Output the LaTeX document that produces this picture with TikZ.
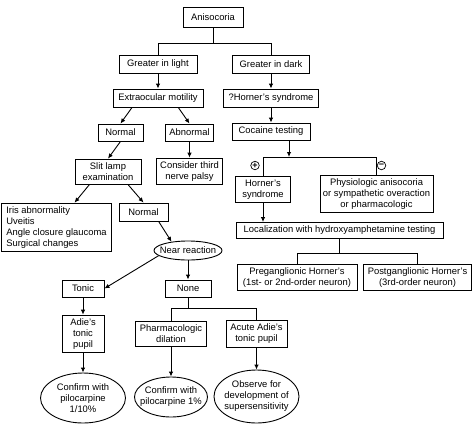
\documentclass[tikz,border=0pt]{standalone}
\usepackage{fontspec}
\setmainfont{Liberation Sans}
\usetikzlibrary{shapes.geometric,arrows.meta}
\begin{document}
\begin{tikzpicture}
  [x=1pt,y=-1pt,line width=.9pt,>={Latex[length=5pt,width=4.5pt]},
   every node/.style={font=\fontsize{9.4}{11}\selectfont},
   box/.style={draw,align=center,inner xsep=4pt,inner ysep=3.5pt,minimum height=18pt},
   oval/.style={draw,ellipse,align=center,inner xsep=-6pt,inner ysep=0pt},
   sign/.style={draw,circle,inner sep=0pt,minimum size=8.5pt,line width=.7pt,font=\fontsize{9}{9}\selectfont\bfseries}]
  \useasboundingbox (0,0) rectangle (474,424);

  \node[box,minimum width=60pt,minimum height=20pt] (aniso) at (213,17) {Anisocoria};
  \node[box,minimum width=78pt] (light)    at (158,64)    {Greater in light};
  \node[box,minimum width=77pt] (dark)     at (271,64)    {Greater in dark};
  \node[box,minimum width=90pt] (eom)      at (158,98)    {Extraocular motility};
  \node[box,minimum width=95pt] (hornq)    at (271,98)    {?Horner's syndrome};
  \node[box,minimum width=45pt,minimum height=17pt] (normal)   at (120.5,132.5) {Normal};
  \node[box,minimum width=48pt,minimum height=17pt] (abnormal) at (189.5,132.5) {Abnormal};
  \node[box,minimum width=78pt,minimum height=17pt] (cocaine)  at (271,131.5)   {Cocaine testing};
  \node[box,minimum width=66pt] (slit)     at (108,171.5)   {Slit lamp\\examination};
  \node[box,minimum width=66pt] (palsy)    at (189.5,171.5) {Consider third\\nerve palsy};
  \node[box,minimum width=55pt] (horner)   at (263,189.5)   {Horner's\\syndrome};
  \node[box,minimum width=113pt,inner xsep=3pt] (physio) at (376.5,194) {Physiologic anisocoria\\or sympathetic overaction\\or pharmacologic};
  \node[box,minimum width=109pt,align=left,inner xsep=5pt] (iris) at (56.5,227.5) {Iris abnormality\\Uveitis\\Angle closure glaucoma\\Surgical changes};
  \node[box,minimum width=49pt] (normb)    at (143.5,212)   {Normal};
  \node[box,minimum width=207pt,minimum height=16pt,inner ysep=3pt] (local) at (339.5,230.5) {Localization with hydroxyamphetamine testing};
  \node[oval,minimum width=68pt,minimum height=19pt] (near) at (188,250.5) {Near reaction};
  \node[box,minimum width=120pt] (pre)     at (297,277.5)   {Preganglionic Horner's\\(1st- or 2nd-order neuron)};
  \node[box,minimum width=107pt] (post)    at (417.5,277.5) {Postganglionic Horner's\\(3rd-order neuron)};
  \node[box,minimum width=42pt,minimum height=17pt] (tonic) at (83,288.5)    {Tonic};
  \node[box,minimum width=46pt,minimum height=17pt] (none)  at (188,288.5)   {None};
  \node[box,minimum width=42pt] (adie)     at (83,334)      {Adie's\\tonic\\pupil};
  \node[box,minimum width=69pt] (pharm)    at (171,333.5)   {Pharmacologic\\dilation};
  \node[box,minimum width=61pt] (acute)    at (256.5,334)   {Acute Adie's\\tonic pupil};
  \node[oval,minimum width=85pt,minimum height=50pt] (conf1)   at (83,398)    {Confirm with\\pilocarpine\\1/10\%};
  \node[oval,minimum width=73pt,minimum height=40pt] (conf2)   at (171,397)   {Confirm with\\pilocarpine 1\%};
  \node[oval,minimum width=85pt,minimum height=53pt] (observe) at (256.5,396.5) {Observe for\\development of\\supersensitivity};

  \node[sign] (plus)  at (255,165.5)   {+};
  \node[sign] (minus) at (381.5,165.5) {−};

  % splits without arrow heads
  \draw (aniso.south) -- ++(0,16) -| (light.north);
  \draw (aniso.south) -- ++(0,16) -| (dark.north);
  \coordinate (csplit) at (289,157);
  \draw[->] (cocaine.south -| csplit) -- (csplit);
  \draw (csplit) -| (horner.north);
  \draw (csplit) -| (physio.north);
  \draw[->] (horner.south) -- (horner.south |- local.north);
  \draw (local.south) -- ++(0,14) -| (pre.north);
  \draw (local.south) -- ++(0,14) -| (post.north);
  \coordinate (nsplit) at (188,308);
  \draw (none.south) -- (nsplit) -| (pharm.north);
  \draw (nsplit) -| (acute.north);

  \foreach \from/\to in {light/eom,dark/hornq,hornq/cocaine,abnormal/palsy,
                         near/none,tonic/adie,adie/conf1,pharm/conf2,acute/observe}
    \draw[->] (\from) -- (\to);
  \foreach \from/\to in {eom.200/normal.north,eom.335/abnormal.north,
                         normal.south/slit.north,slit.215/iris.54,slit.327/normb.north,
                         normb.328/near.152,near.190/tonic.east}
    \draw[->] (\from) -- (\to);
\end{tikzpicture}
\end{document}
